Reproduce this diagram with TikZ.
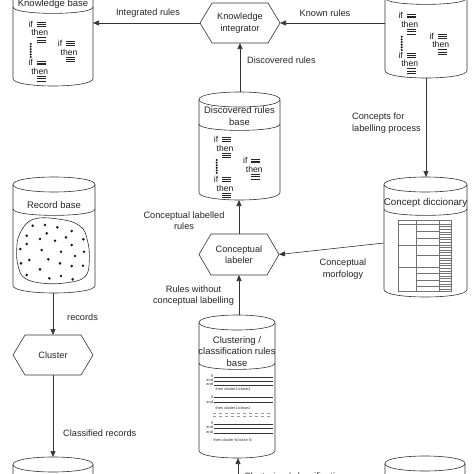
\documentclass[tikz,border=0pt]{standalone}
\usepackage{fontspec}
\setmainfont{Liberation Sans}
\usetikzlibrary{arrows.meta,calc}
\newcommand\cylry{7.5}
\newcommand\cylkk{10}
\newcommand\cyl[5]{%
  \node[box, minimum width={#3-(#2)}, minimum height={#5-(#4)}] (#1) at ({(#2+#3)/2},{(#4+#5)/2}) {};
  \draw[ln] (#2,#4+\cylry) .. controls (#2,#4+\cylry-\cylkk) and (#3,#4+\cylry-\cylkk) .. (#3,#4+\cylry) .. controls (#3,#4+\cylry+\cylkk) and (#2,#4+\cylry+\cylkk) .. (#2,#4+\cylry) -- cycle;
  \draw[ln] (#2,#4+\cylry) -- (#2,#5-\cylry) .. controls (#2,#5-\cylry+\cylkk) and (#3,#5-\cylry+\cylkk) .. (#3,#5-\cylry) -- (#3,#4+\cylry);
}
\newcommand\cyldiv[3]{\draw[ln] (#1,#3) .. controls (#1,#3+8.5) and (#2,#3+8.5) .. (#2,#3);}
\newcommand\hexa[6]{%
  \node[box, lbl, minimum width=#4, minimum height=#5] (#1) at (#2,#3) {#6};
  \draw[ln] (#1.west) -- ($(#1.north west)+(12,0)$) -- ($(#1.north east)+(-12,0)$) -- (#1.east) -- ($(#1.south east)+(-12,0)$) -- ($(#1.south west)+(12,0)$) -- cycle;
}
\newcommand\dotcol[3]{\foreach \i in {0,...,5} \fill[black!90] (#1,{#2+\i*(#3-(#2))/5}) circle[radius=1.15pt];}
\tikzset{
  ln/.style={draw=black!80, line width=0.6pt},
  arr/.style={ln, -{Triangle[length=6pt,width=5pt]}},
  lbl/.style={font=\fontsize{9.2}{11.5}\selectfont, text=black!85, inner sep=0pt, align=center},
  ttl/.style={font=\fontsize{9.5}{11.8}\selectfont, text=black!85, inner sep=0pt, align=center},
  box/.style={inner sep=0pt, outer sep=0pt, draw=none},
  ico/.style={font=\fontsize{8.6}{9}\selectfont, text=black!90, inner sep=0pt},
  icl/.style={draw=black!85, line width=0.75pt},
  tny/.style={font=\fontsize{3.9}{4}\selectfont, text=black!80, inner sep=0.3pt},
  rl/.style={draw=black!80, line width=0.65pt},
  tbl/.style={draw=black!55, line width=0.3pt},
  ruleicon/.pic={
    \node[ico] at (0,0) {if};
    \foreach \d in {-1.6,0.2,2.0} \draw[icl] (6,\d) -- (15,\d);
    \node[ico] at (9,8.7) {then};
    \foreach \d in {13.7,16,18.3} \draw[icl] (6,\d) -- (15,\d);
  }
}
\begin{document}
\begin{tikzpicture}[x=1pt,y=-1pt]
\useasboundingbox (0,0) rectangle (474,474);
\clip (0,0) rectangle (474,474);
\fill[white] (0,0) rectangle (474,474);

% cylinders
\cyl{kb}{13}{93}{-30}{86}
\cyldiv{13}{93}{7}
\node[ttl] (kbt) at (53,4.5) {Knowledge base};
\pic at (30.7,24) {ruleicon};
\pic at (30.7,62.7) {ruleicon};
\pic at (60,43.3) {ruleicon};
\dotcol{30.7}{44}{57}

\cyl{kr}{385}{467}{-30}{78}
\cyldiv{385}{467}{-2}
\pic at (400.7,15.7) {ruleicon};
\pic at (400.7,55) {ruleicon};
\pic at (431.7,36) {ruleicon};
\dotcol{401.7}{36.7}{50}

\cyl{dr}{199}{280}{92}{200}
\cyldiv{199}{280}{124}
\node[ttl] (drt) at (239.5,116) {Discovered rules\\base};
\pic at (216,139.3) {ruleicon};
\pic at (216,179.3) {ruleicon};
\pic at (245.3,160.7) {ruleicon};
\dotcol{216.7}{160}{173}

\cyl{rb}{13}{95}{177}{293}
\cyldiv{13}{95}{209}
\node[ttl] (rbt) at (54,205) {Record base};
\draw[ln] plot[smooth cycle, tension=0.7] coordinates {(33.3,219.3) (60,219.3) (80,226) (87.3,240) (89.3,260) (85,276.7) (66.7,282.7) (43.3,283.3) (25,278.3) (18.3,266.7) (16.7,250) (20,233.3)};
\foreach \p in {(32.7,225.7),(45,225),(57.3,227.3),(71.7,231),(26.7,235.7),(46.7,233.3),(40,239),(55,240.7),(66,237.3),(83.3,239.3),(26.7,244),(71.7,245),(20.3,249),(41.7,250),(61,251.7),(84,251.7),(75,256),(29.3,260),(48.3,259.3),(60,263.3),(21,263.3),(71.7,266),(83,265.7),(40,269.3),(26.7,275),(49.3,278.3),(61,276),(72.7,279.3)}
  \fill[black!90] \p circle[radius=1.45pt];

\cyl{cd}{384}{467}{177}{297}
\cyldiv{384}{467}{209}
\node[ttl, font=\fontsize{9.8}{11.8}\selectfont] (cdt) at (425.5,203) {Concept diccionary};
\draw[tbl] (398,220) rectangle (451,291);
\draw[tbl] (416,220) -- (416,291) (439,220) -- (439,291) (398,224) -- (451,224);
\draw[tbl] (398,245) -- (416,245) (398,267) -- (416,267);
\foreach \y in {231,238,245,255,267,273,280,286} \draw[tbl] (416,\y) -- (439,\y);
\foreach \y in {226.6,229.2,...,290} \draw[tbl] (439,\y) -- (451,\y);

\cyl{cr}{199}{275}{315}{458}
\cyldiv{199}{275}{363}
\node[ttl] (crt) at (237,351.5) {Clustering /\\classification rules\\base};
\foreach \y/\t in {376/if, 380.2/and, 384.4/and, 396.7/if, 401.7/and, 423.3/if, 427.6/and, 432/and}
  {\node[tny, anchor=east] at (213.5,\y) {\t}; \draw[rl] (213.5,\y+1) -- (273,\y+1);}
\node[tny, anchor=west] (r1) at (215,389.5) {then cluster1/clase1};
\node[tny, anchor=west] (r2) at (215,408.3) {then cluster1/clase1};
\node[tny, anchor=west] (r3) at (213,440) {then cluster N/clase N};
\draw[draw=black!40, dashed, line width=0.3pt] (213,413.3) -- (273,413.3) (213,416.2) -- (273,416.2);

\cyl{bl}{13}{93}{457}{620}
\cyl{br}{385}{465}{456}{620}

% hexagons
\hexa{ki}{240}{23}{80}{40}{Knowledge\\integrator}
\hexa{cl}{239}{254.5}{80}{41}{Conceptual\\labeler}
\hexa{cs}{53}{355}{80}{40}{Cluster}

% connectors
\draw[arr] (ki.west) -- (ki.west -| kb.east);
\draw[arr] (ki.east -| kr.west) -- (ki.east);
\draw[arr] (ki.south |- dr.north) -- (ki.south);
\draw[arr] (kr.south) -- (kr.south |- cd.north);
\draw[arr] (cl.north) -- (cl.north |- dr.south);
\draw[arr] (cl.south |- cr.north) -- (cl.south);
\draw[arr] ([yshift=-6pt]cd.west) -- (cl.east);
\draw[arr] (cs.north |- rb.south) -- (cs.north);
\draw[arr] (cs.south) -- (cs.south |- bl.north);
\coordinate (bt) at (238,495);
\draw[arr] (bt) -- (bt |- cr.south);

% labels
\node[lbl] (l1) at (148,13) {Integrated rules};
\node[lbl] (l2) at (325,13) {Known rules};
\node[lbl, anchor=west] (l3) at (247,60) {Discovered rules};
\node[lbl, anchor=west, align=left] (l4) at (352,123) {Concepts for\\labelling process};
\node[lbl] (l5) at (184,220.5) {Conceptual labelled\\rules};
\node[lbl] (l6) at (193.5,295.5) {Rules without\\conceptual labelling};
\node[lbl] (l7) at (343,269) {Conceptual\\morfology};
\node[lbl, anchor=west] (l8) at (67,317) {records};
\node[lbl, anchor=west] (l9) at (63,433) {Classified records};
\node[lbl, anchor=west] (l10) at (244,477.5) {Clustering / classification};
\end{tikzpicture}
\end{document}
